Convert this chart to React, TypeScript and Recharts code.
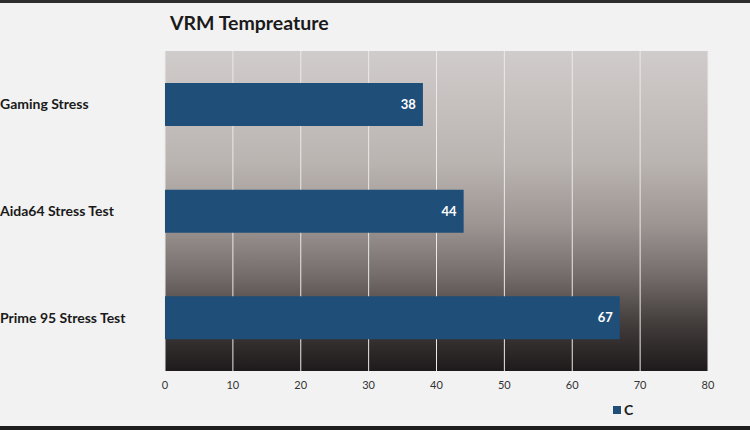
import { BarChart, Bar, XAxis, YAxis, CartesianGrid, LabelList } from "recharts";

const categories = ["Gaming Stress", "Aida64 Stress Test", "Prime 95 Stress Test"];
const temps = [38, 44, 67];
const xTicks = [0, 10, 20, 30, 40, 50, 60, 70, 80];

const data = categories.map((name, i) => ({ name, value: temps[i] }));

const FONT = "Lato, 'Open Sans', sans-serif";

function CategoryTick({ y, payload }: any) {
  return (
    <text x={0} y={y} dy={5} textAnchor="start" fontSize={14} fontWeight={700} fill="#1a1a1a" fontFamily={FONT}>
      {payload.value}
    </text>
  );
}

export default function App() {
  return (
    <div
      style={{
        position: "absolute",
        left: 0,
        top: 0,
        width: 750,
        height: 430,
        background: "#f2f2f2",
        overflow: "hidden",
        fontFamily: FONT,
      }}
    >
      <div style={{ position: "absolute", left: 0, top: 0, width: 750, height: 3, background: "#2e2e2e" }} />
      <div style={{ position: "absolute", left: 0, top: 426, width: 750, height: 4, background: "#1e1e1e" }} />
      <div
        style={{
          position: "absolute",
          left: 170,
          top: 11,
          fontSize: 19.5,
          fontWeight: 700,
          color: "#1a1a1a",
        }}
      >
        VRM Tempreature
      </div>

      <BarChart
        width={750}
        height={430}
        data={data}
        layout="vertical"
        margin={{ top: 51, right: 42, bottom: 29, left: 0 }}
        barCategoryGap="30%"
      >
        <defs>
          <linearGradient id="plotBg" x1="0" y1="0" x2="0" y2="1">
            <stop offset="0%" stopColor="#d0cccb" />
            <stop offset="35%" stopColor="#bab4b1" />
            <stop offset="55%" stopColor="#9a9390" />
            <stop offset="70%" stopColor="#746d6b" />
            <stop offset="85%" stopColor="#433d3c" />
            <stop offset="100%" stopColor="#1e1a1b" />
          </linearGradient>
        </defs>
        <CartesianGrid horizontal={false} fill="url(#plotBg)" stroke="#ebe9e9" strokeWidth={1} />
        <XAxis
          type="number"
          domain={[0, 80]}
          ticks={xTicks}
          axisLine={false}
          tickLine={false}
          height={30}
          tickMargin={4}
          tick={{ fontSize: 11, fill: "#333333", fontFamily: FONT }}
        />
        <YAxis
          type="category"
          dataKey="name"
          width={165}
          axisLine={false}
          tickLine={false}
          tick={<CategoryTick />}
        />
        <Bar dataKey="value" fill="#1f4e79" barSize={43} isAnimationActive={false}>
          <LabelList
            dataKey="value"
            position="insideRight"
            offset={7}
            fill="#ffffff"
            fontSize={13}
            fontWeight={700}
            fontFamily={FONT}
          />
        </Bar>
      </BarChart>

      <div
        style={{
          position: "absolute",
          left: 613,
          top: 401,
          display: "flex",
          alignItems: "center",
          fontSize: 14,
          fontWeight: 700,
          color: "#1a1a1a",
        }}
      >
        <span style={{ display: "inline-block", width: 8, height: 8, background: "#1f4e79", marginRight: 3 }} />C
      </div>
    </div>
  );
}
